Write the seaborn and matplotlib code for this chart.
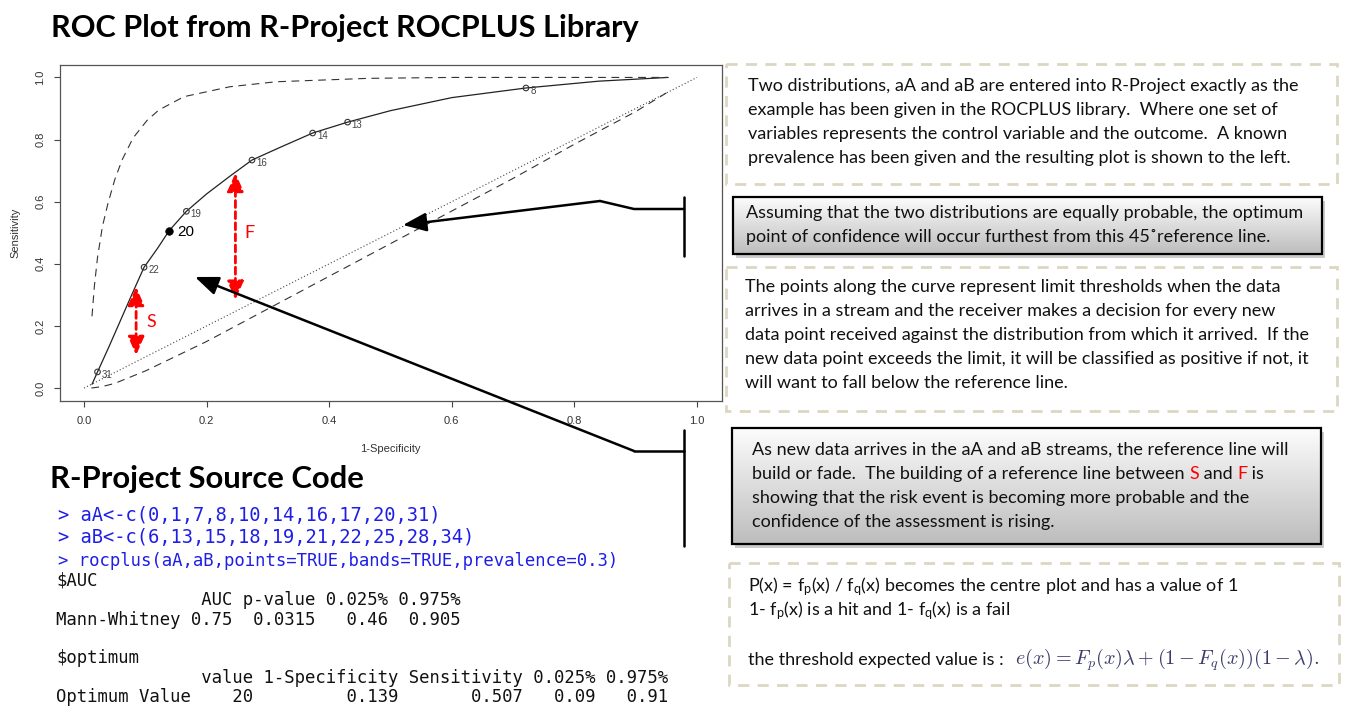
import numpy as np
import pandas as pd
import seaborn as sns
import matplotlib.pyplot as plt
from matplotlib.patches import Rectangle
from matplotlib.colors import LinearSegmentedColormap

# ROC curve as drawn by rocplus (1-specificity, sensitivity)
roc_fpr = [0.013, 0.022, 0.04, 0.06, 0.08, 0.098, 0.12, 0.139, 0.167, 0.20, 0.24,
           0.274, 0.32, 0.373, 0.43, 0.50, 0.60, 0.721, 0.84, 0.953]
roc_tpr = [0.012, 0.052, 0.13, 0.22, 0.31, 0.389, 0.45, 0.507, 0.569, 0.625, 0.685,
           0.734, 0.775, 0.821, 0.856, 0.893, 0.935, 0.966, 0.988, 1.0]

# confidence bands (bands=TRUE)
hi_fpr = [0.013, 0.017, 0.022, 0.030, 0.039, 0.050, 0.062, 0.080, 0.103, 0.122,
          0.163, 0.238, 0.313, 0.463, 0.600, 0.951]
hi_tpr = [0.231, 0.330, 0.420, 0.520, 0.594, 0.670, 0.734, 0.805, 0.862, 0.895,
          0.938, 0.970, 0.986, 0.997, 1.000, 1.000]
lo_fpr = [0.012, 0.03, 0.05, 0.10, 0.20, 0.30, 0.40, 0.50, 0.60, 0.70, 0.80, 0.90, 0.95]
lo_tpr = [0.0, 0.005, 0.015, 0.055, 0.15, 0.255, 0.36, 0.465, 0.57, 0.675, 0.785, 0.89, 0.95]

# 45 degree reference line
ref_fpr = [0.0, 1.0]
ref_tpr = [0.0, 1.0]

# threshold points (points=TRUE)
pt_fpr = [0.022, 0.098, 0.167, 0.274, 0.373, 0.430, 0.721]
pt_tpr = [0.052, 0.389, 0.569, 0.734, 0.821, 0.856, 0.966]
pt_labels = ['31', '22', '19', '16', '14', '13', '8']

# optimum value
opt_fpr, opt_tpr, opt_label = 0.139, 0.507, '20'

# S and F markers
s_fpr, s_tpr = 0.085, [0.106, 0.326]
f_fpr, f_tpr = 0.247, [0.284, 0.693]

ticks = [0.0, 0.2, 0.4, 0.6, 0.8, 1.0]

code_cmds = ['> aA<-c(0,1,7,8,10,14,16,17,20,31)',
             '> aB<-c(6,13,15,18,19,21,22,25,28,34)',
             '> rocplus(aA,aB,points=TRUE,bands=TRUE,prevalence=0.3)']
code_out = ['$AUC',
            '              AUC p-value 0.025% 0.975%',
            'Mann-Whitney 0.75  0.0315   0.46  0.905',
            '',
            '$optimum',
            '              value 1-Specificity Sensitivity 0.025% 0.975%',
            'Optimum Value    20         0.139       0.507   0.09   0.91']

box1_lines = ['Two distributions, aA and aB are entered into R-Project exactly as the',
              'example has been given in the ROCPLUS library.  Where one set of',
              'variables represents the control variable and the outcome.  A known',
              'prevalence has been given and the resulting plot is shown to the left.']
box2_lines = ['Assuming that the two distributions are equally probable, the optimum',
              'point of confidence will occur furthest from this 45\u02dareference line.']
box3_lines = ['The points along the curve represent limit thresholds when the data',
              'arrives in a stream and the receiver makes a decision for every new',
              'data point received against the distribution from which it arrived.  If the',
              'new data point exceeds the limit, it will be classified as positive if not, it',
              'will want to fall below the reference line.']
box4_lines = ['As new data arrives in the aA and aB streams, the reference line will',
              None,
              'showing that the risk event is becoming more probable and the',
              'confidence of the assessment is rising.']
box5_lines = [r'P(x) = f$_\mathrm{p}$(x) / f$_\mathrm{q}$(x) becomes the centre plot and has a value of 1',
              r'1- f$_\mathrm{p}$(x) is a hit and 1- f$_\mathrm{q}$(x) is a fail']
formula = r'$e(x) = F_p(x)\lambda + (1 - F_q(x))(1 - \lambda).$'

sns.set_theme(style='white')
plt.rcParams['font.family'] = ['Lato', 'DejaVu Sans']
plt.rcParams['mathtext.fontset'] = 'custom'
plt.rcParams['mathtext.rm'] = 'Lato'
plt.rcParams['mathtext.it'] = 'Lato:italic'

W, H = 1355, 717
fig = plt.figure(figsize=(W / 100, H / 100), dpi=100)
fig.patch.set_facecolor('white')


def fig_rect(x0, y0, x1, y1):
    return [x0 / W, 1 - y1 / H, (x1 - x0) / W, (y1 - y0) / H]


# ---- the R plot
ax = fig.add_axes(fig_rect(59.5, 65, 721.5, 400.5))
curve = pd.DataFrame({'fpr': roc_fpr, 'tpr': roc_tpr})
sns.lineplot(data=curve, x='fpr', y='tpr', sort=False, estimator=None,
             color='#222222', lw=0.9, ax=ax)
sns.lineplot(x=hi_fpr, y=hi_tpr, sort=False, estimator=None, color='#333333',
             lw=0.8, linestyle=(0, (7, 5)), ax=ax)
sns.lineplot(x=lo_fpr, y=lo_tpr, sort=False, estimator=None, color='#333333',
             lw=0.8, linestyle=(0, (7, 5)), ax=ax)
sns.lineplot(x=ref_fpr, y=ref_tpr, sort=False, estimator=None, color='#444444',
             lw=0.8, linestyle=(0, (1, 2)), ax=ax)
sns.scatterplot(x=pt_fpr, y=pt_tpr, marker='o', s=16, facecolors='none',
                edgecolor='#333333', linewidth=0.8, ax=ax, zorder=3)
sns.scatterplot(x=[opt_fpr], y=[opt_tpr], s=30, color='black', edgecolor='black', ax=ax, zorder=3)

for x, y, lab in zip(pt_fpr, pt_tpr, pt_labels):
    ax.annotate(lab, (x, y), xytext=(3, -2), textcoords='offset points', va='center',
                fontsize=7, color='#444444', family='Liberation Sans')
ax.annotate(opt_label, (opt_fpr, opt_tpr), xytext=(6, -1), textcoords='offset points',
            va='center', fontsize=11, color='black', family='Liberation Sans')

for x, (y0, y1) in [(s_fpr, s_tpr), (f_fpr, f_tpr)]:
    ax.annotate('', xy=(x, y1), xytext=(x, y0),
                arrowprops=dict(arrowstyle='<|-|>,head_length=0.8,head_width=0.35',
                                color='red', lw=2, linestyle=(0, (2.5, 1.5)),
                                shrinkA=0, shrinkB=0, mutation_scale=14))
ax.text(0.102, 0.214, 'S', color='red', fontsize=13, ha='left', va='center')
ax.text(0.262, 0.50, 'F', color='red', fontsize=13, ha='left', va='center')

ax.set_xlim(-0.04, 1.04)
ax.set_ylim(-0.04, 1.04)
ax.set_xticks(ticks)
ax.set_xticklabels([f'{t:.1f}' for t in ticks], family='Liberation Sans')
ax.set_yticks(ticks)
ax.set_yticklabels([f'{t:.1f}' for t in ticks], family='Liberation Sans',
                   rotation=90, va='center')
ax.tick_params(bottom=True, left=True, direction='out', length=4.3, width=0.8,
               color='#444444', labelsize=8, labelcolor='#333333')
ax.tick_params(axis='x', pad=6.5)
ax.tick_params(axis='y', pad=5.8)
for sp in ax.spines.values():
    sp.set_color('#555555')
    sp.set_linewidth(0.9)
ax.set_xlabel('1-Specificity', fontsize=8, color='#333333', family='Liberation Sans')
ax.set_ylabel('Sensitivity', fontsize=8, color='#333333', family='Liberation Sans')
ax.xaxis.set_label_coords(0.5, -(443.5 - 400.5) / 335.5)
ax.yaxis.set_label_coords((20.5 - 59.5) / 662, 0.5)

# ---- overlay in pixel coordinates for the page layout
ov = fig.add_axes([0, 0, 1, 1])
ov.set_zorder(5)
ov.axis('off')
renderer = fig.canvas.get_renderer()


def fit(texts, width):
    w = texts[0].get_window_extent(renderer).width
    size = texts[0].get_fontsize() * width / w
    for t in texts:
        t.set_fontsize(size)
    return size


title = ov.text(51, 28, 'ROC Plot from R-Project ROCPLUS Library', fontsize=22,
                fontweight='bold', va='center', ha='left', color='black')
fit([title], 586)
src = ov.text(50, 479, 'R-Project Source Code', fontsize=20, fontweight='bold',
              va='center', ha='left', color='black')
fit([src], 314)

cmd_y = [516, 537, 561]
cmd_txt = [ov.text(58, y, s, family='DejaVu Sans Mono', fontsize=13, color='#1e1ee6',
                   va='center', parse_math=False) for y, s in zip(cmd_y, code_cmds)]
fit(cmd_txt[:2], 384)
out_y = [581, 600, 620, 639, 658, 678, 697]
out_txt = [ov.text(56, y, s, family='DejaVu Sans Mono', fontsize=12, color='#111111',
                   va='center', parse_math=False) for y, s in zip(out_y, code_out)]
mono = fit(out_txt[::-1], 610)
cmd_txt[2].set_fontsize(mono)

# text boxes
box_edge = '#dcd7c2'
for x0, y0, x1, y1 in [(726, 64, 1337, 184), (726, 267, 1337, 411), (729, 563, 1339, 685)]:
    ov.add_patch(Rectangle((x0, y0), x1 - x0, y1 - y0, fill=False, ec=box_edge, lw=2,
                           linestyle=(0, (4, 3))))

grad_cmap = LinearSegmentedColormap.from_list('box', ['#fcfcfc', '#bdbdbd'])
grad = np.linspace(0, 1, 100).reshape(-1, 1)
for x0, y0, x1, y1 in [(733, 197, 1322, 254), (732, 428, 1321, 544)]:
    ov.add_patch(Rectangle((x0 + 3, y0 + 4), x1 - x0, y1 - y0, fc='#8c8c8c', ec='none',
                           alpha=0.45, zorder=1))
    ov.imshow(grad, cmap=grad_cmap, extent=(x0, x1, y1, y0), aspect='auto', zorder=2)
    ov.add_patch(Rectangle((x0, y0), x1 - x0, y1 - y0, fill=False, ec='black', lw=1.6,
                           zorder=3))

body = [ov.text(748, 86 + 24 * i, s, fontsize=12, va='center', color='#111111', zorder=4)
        for i, s in enumerate(box1_lines)]
size = fit(body, 549)
for i, s in enumerate(box2_lines):
    ov.text(746, 213 + 23.5 * i, s, fontsize=size, va='center', color='#111111', zorder=4)
for i, s in enumerate(box3_lines):
    ov.text(745, 287 + 24 * i, s, fontsize=size, va='center', color='#111111', zorder=4)
for i, s in enumerate(box4_lines):
    if s is None:
        continue
    ov.text(752, 450 + 24 * i, s, fontsize=size, va='center', color='#111111', zorder=4)
prev = ov.text(752, 474, 'build or fade.  The building of a reference line between ',
               fontsize=size, va='center', color='#111111', zorder=4)
for piece, col in [('S', 'red'), (' and ', '#111111'), ('F', 'red'), (' is', '#111111')]:
    prev = ov.annotate(piece, xy=(1, 0), xycoords=prev, va='bottom', fontsize=size,
                       color=col, zorder=4)
for i, s in enumerate(box5_lines):
    ov.text(748, 587 + 24 * i, s, fontsize=size, va='center', color='#111111', zorder=4)
ov.text(748, 660, 'the threshold expected value is :', fontsize=size, va='center',
        color='#111111', zorder=4)
ftxt = ov.text(1015, 660, formula, fontsize=12, va='center', color='#3c3c6c',
               math_fontfamily='cm', zorder=4)
fit([ftxt], 305)

# callout arrows
ov.plot([684, 684], [197, 256], color='black', lw=1.8, zorder=6)
ov.plot([684, 634, 600], [209, 209, 201], color='black', lw=1.8, zorder=6)
ov.annotate('', xy=(403, 225), xytext=(600, 201),
            arrowprops=dict(arrowstyle='-|>,head_length=0.55,head_width=0.22', color='black',
                            lw=1.8, shrinkA=0, shrinkB=0, mutation_scale=26), zorder=6)
ov.plot([684, 684], [430, 546], color='black', lw=1.8, zorder=6)
ov.plot([684, 634], [451, 451], color='black', lw=1.8, zorder=6)
ov.annotate('', xy=(195, 277), xytext=(634, 451),
            arrowprops=dict(arrowstyle='-|>,head_length=0.55,head_width=0.22', color='black',
                            lw=1.8, shrinkA=0, shrinkB=0, mutation_scale=26), zorder=6)

ov.set_xlim(0, W)
ov.set_ylim(H, 0)

fig.savefig('out.png', dpi=100)
